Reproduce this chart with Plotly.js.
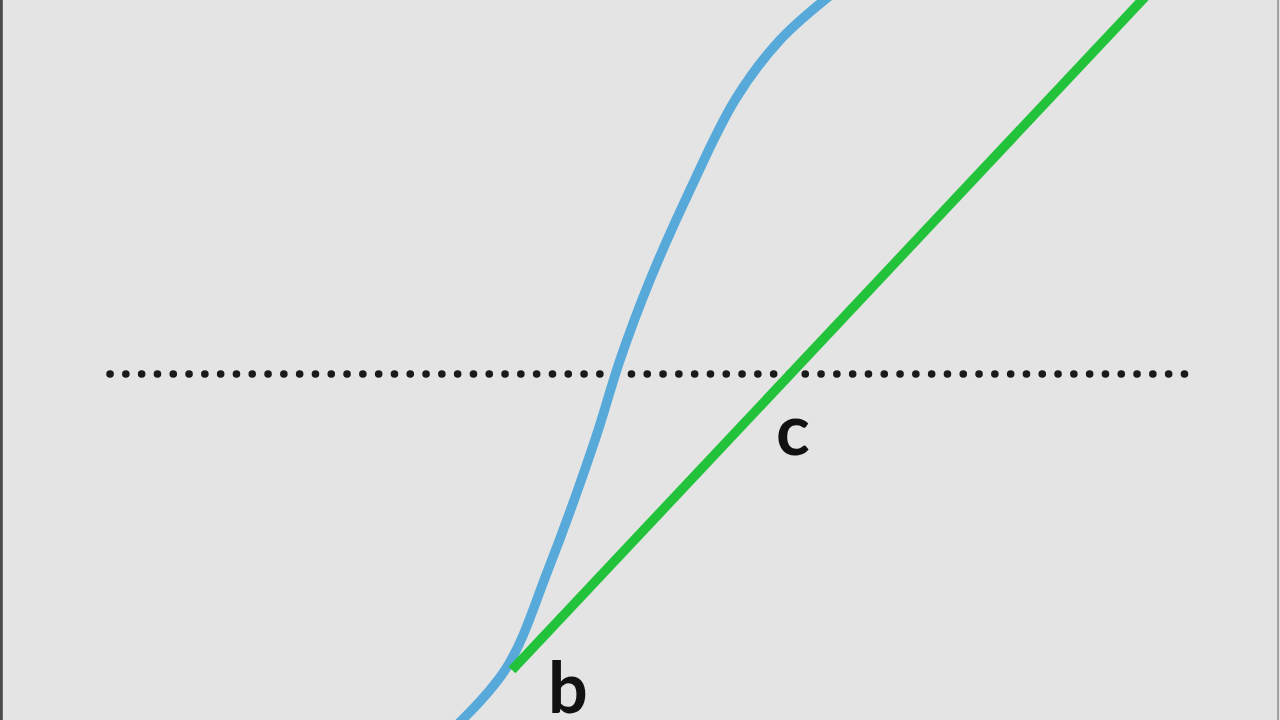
<!DOCTYPE html>
<html>
<head>
<meta charset="utf-8">
<script src="https://cdn.plot.ly/plotly-3.0.1.min.js"></script>
<style>
  html, body { margin: 0; padding: 0; background: #e4e4e4; }
  #chart { width: 1280px; height: 720px; }
  /* round caps turn the short dashes of the reference line into dots */
  .scatterlayer .trace:first-child .js-line { stroke-linecap: round; }
</style>
</head>
<body>
<div id="chart"></div>
<script>
// pixel-like coordinates (y grows downward)
const refX = [110, 1196];
const refY = [374, 374];

const curveX = [455, 507, 548, 595, 620, 650, 690, 735, 780, 832];
const curveY = [727, 667, 570, 440, 360, 280, 190, 100, 40, -6];

const tangentX = [512, 1145];
const tangentY = [670, -3];

const labels = ["b", "c"];
const labelX = [568, 793];
const labelY = [686, 428];

const traces = [
  {
    x: refX, y: refY, mode: "lines", hoverinfo: "skip",
    line: {color: "#1a1a1a", width: 7.5, dash: "0.1px,15.7px"}
  },
  {
    x: curveX, y: curveY, mode: "lines", hoverinfo: "skip",
    line: {color: "#57a9d9", width: 9.5, shape: "spline", smoothing: 1}
  },
  {
    x: tangentX, y: tangentY, mode: "lines", hoverinfo: "skip",
    line: {color: "#22c33b", width: 9.5}
  }
];

const layout = {
  width: 1280,
  height: 720,
  margin: {l: 0, r: 0, t: 0, b: 0},
  paper_bgcolor: "#e4e4e4",
  plot_bgcolor: "#e4e4e4",
  showlegend: false,
  xaxis: {range: [0, 1280], visible: false, fixedrange: true},
  yaxis: {range: [720, 0], visible: false, fixedrange: true},
  annotations: labels.map((t, i) => ({
    text: t, x: labelX[i], y: labelY[i], xref: "x", yref: "y",
    showarrow: false, xanchor: "center", yanchor: "middle",
    font: {family: "Lato, Open Sans, sans-serif", size: 70, color: "#111111", weight: 700}
  })),
  shapes: [
    {type: "line", xref: "paper", yref: "paper", x0: 0.001, x1: 0.001, y0: 0, y1: 1,
     line: {color: "#4a4a4a", width: 3}},
    {type: "line", xref: "paper", yref: "paper", x0: 0.9985, x1: 0.9985, y0: 0, y1: 1,
     line: {color: "#8a8a8a", width: 1.5}}
  ]
};

Plotly.newPlot("chart", traces, layout, {staticPlot: true, displayModeBar: false});
</script>
</body>
</html>
